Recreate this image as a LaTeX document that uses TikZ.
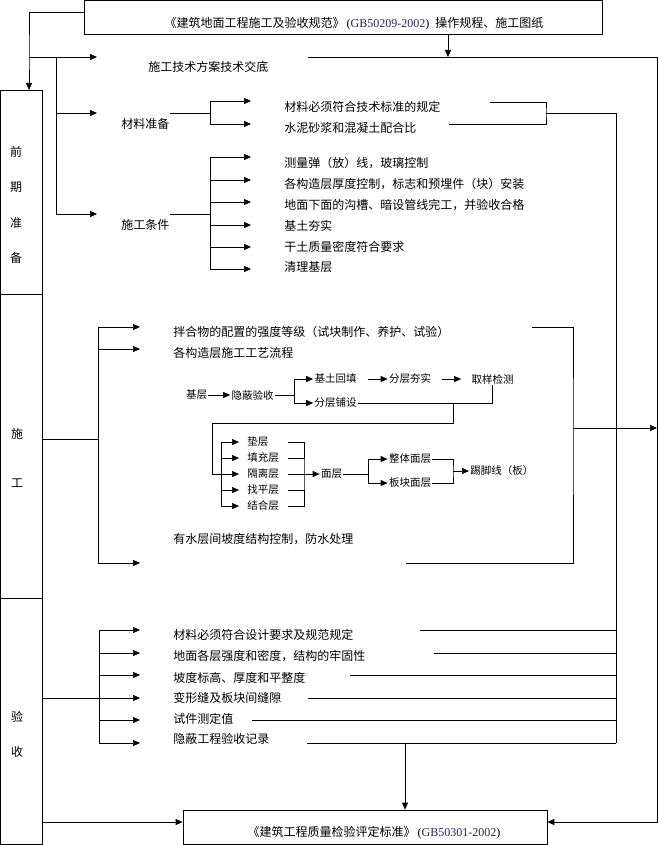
\documentclass[tikz,border=0pt]{standalone}
\usepackage{fontspec}
\setmainfont{Noto Sans CJK SC}
\newfontfamily\gbfont{Liberation Serif}
\definecolor{gbnavy}{RGB}{30, 40, 90}
\usetikzlibrary{arrows.meta, positioning}

\begin{document}
\begin{tikzpicture}[x=1pt, y=-1pt, line width=0.7pt,
  arr/.style={-{Triangle[length=7pt, width=6pt]}},
  txt/.style={anchor=west, inner sep=0pt, font=\fontsize{12}{14}\selectfont},
  sub/.style={inner sep=1pt, font=\fontsize{10.5}{12}\selectfont},
  layer/.style={sub, anchor=west, text width=32pt, align=left, inner xsep=8pt},
  stagebox/.style={draw, minimum width=41.6pt, anchor=north west, inner sep=0pt},
  stagetxt/.style={align=center, inner sep=0pt},
  stdbox/.style={draw, inner xsep=0pt, inner ysep=0pt, minimum height=34pt, font=\fontsize{12}{14}\selectfont}]
  \useasboundingbox (0,0) rectangle (658,845);

  % standards
  \node[stdbox, minimum width=518pt, text height=27.5pt, text depth=6.5pt] (std1) at (343,17.4)
    {\hspace*{22pt}《建筑地面工程施工及验收规范》\hspace{2pt}{\gbfont(\color{gbnavy}GB50209-2002\color{black})}\hspace{6pt}操作规程、施工图纸};
  \node[stdbox, minimum width=364pt, text height=26.5pt, text depth=7.5pt] (std2) at (365,827)
    {\hspace*{18pt}《建筑工程质量检验评定标准》\hspace{2pt}{\gbfont(\color{gbnavy}GB50301-2002\color{black})}};

  % stage column
  \node[stagebox, minimum height=204pt] (stage1) at (0.4,90) {};
  \node[stagebox, minimum height=304pt] (stage2) at (0.4,294) {};
  \node[stagebox, minimum height=246pt] (stage3) at (0.4,598) {};
  \node[stagetxt, font=\fontsize{12}{35.5}\selectfont] (s1) at (16,205) {前\\期\\准\\备};
  \node[stagetxt, font=\fontsize{12}{49}\selectfont] (s2) at (17,457.5) {施\\工};
  \node[stagetxt, font=\fontsize{12}{35}\selectfont] (s3) at (17,734.5) {验\\收};

  % trunks on the right
  \coordinate (v1) at (616,743);
  \coordinate (v2) at (657,822);
  \coordinate (top-in) at (448,57);
  \coordinate (jd-out) at (308,57);
  \draw[arr] (std1.south -| top-in) -- (top-in);
  \draw[arr] (jd-out) -| (v2) -- (v2 -| std2.east);

  % 前期准备
  \coordinate (pre) at (29,57);
  \coordinate (f10) at (56,57);
  \draw[arr] ([yshift=5pt]std1.west) -| (pre) -- (pre |- stage1.north);
  \node[txt] (jd) at (148,67) {施工技术方案技术交底};
  \node[txt] (cl) at (121,124) {材料准备};
  \node[txt] (tj) at (121,225) {施工条件};
  \coordinate (jd-in) at (97,57);
  \coordinate (cl-in) at (97,113);
  \coordinate (tj-in) at (97,214);
  \draw[arr] (pre) -- (jd-in);
  \draw[arr] (f10) |- (cl-in);
  \draw[arr] (f10) |- (tj-in);

  % 材料准备
  \coordinate (f11) at (210,113);
  \draw (cl.east |- f11) -- (f11);
  \node[txt] (cl1) at (284,107) {材料必须符合技术标准的规定};
  \node[txt] (cl2) at (284,128) {水泥砂浆和混凝土配合比};
  \coordinate (cl1-in) at (251,101);
  \coordinate (cl2-in) at (251,124);
  \draw[arr] (f11) |- (cl1-in);
  \draw[arr] (f11) |- (cl2-in);
  \coordinate (cl1-out) at (490,102);
  \coordinate (cl2-out) at (449,124);
  \coordinate (b1) at (546,113);
  \draw (cl1-out) -| (b1) |- (cl2-out);
  \draw (b1) -| (v1);

  % 施工条件
  \coordinate (f12) at (210,214);
  \draw (tj.east |- f12) -- (f12);
  \foreach \ya/\yt/\txt [count=\i] in {157/163/测量弹（放）线，玻璃控制,
      180/184/各构造层厚度控制，标志和预埋件（块）安装,
      202/205/地面下面的沟槽、暗设管线完工，并验收合格,
      225/226/基土夯实, 247/247/干土质量密度符合要求, 269/267/清理基层}{
    \node[txt] (tj\i) at (284,\yt) {\txt};
    \coordinate (tj\i-in) at (251,\ya);
    \draw[arr] (f12) |- (tj\i-in);
  }

  % 施工
  \coordinate (f20) at (98,439);
  \draw (stage2.east |- f20) -- (f20);
  \node[txt] (sg1) at (173,332) {拌合物的配置的强度等级（试块制作、养护、试验）};
  \node[txt] (sg2) at (173,353) {各构造层施工工艺流程};
  \node[txt] (sg3) at (173,539) {有水层间坡度结构控制，防水处理};
  \coordinate (sg1-in) at (140,327);
  \coordinate (sg2-in) at (140,349);
  \coordinate (sg3-in) at (140,563);
  \draw[arr] (f20) |- (sg1-in);
  \draw[arr] (f20) |- (sg2-in);
  \draw[arr] (f20) |- (sg3-in);
  \coordinate (sg1-out) at (532,327);
  \coordinate (sg3-out) at (406,563);
  \coordinate (b2) at (573,428);
  \draw (sg1-out) -| (b2) |- (sg3-out);
  \draw[arr] (b2) -- (b2 -| v2);

  % 工艺流程
  \node[sub] (jc) at (196.5,395) {基层};
  \node[sub] (yb) at (252.5,395) {隐蔽验收};
  \node[sub] (jt) at (335.5,379) {基土回填};
  \node[sub] (fc) at (335.5,403) {分层铺设};
  \node[sub] (hs) at (410,379) {分层夯实};
  \node[sub] (qy) at (492.5,379) {取样检测};
  \coordinate (f21) at (294,395);
  \draw[arr] (jc) -- (yb);
  \draw (yb) -- (f21);
  \draw[arr] (f21) |- (jt.west);
  \draw[arr] (f21) |- (fc.west);
  \draw[arr, shorten <=10pt] (jt) -- (hs);
  \draw[arr, shorten <=10pt, shorten >=9pt] (hs) -- (qy);
  \draw (fc.east) -| (qy.south);
  \node[layer] (dc) at (239,442) {垫层};
  \node[layer] (tc) at (239,458) {填充层};
  \node[layer] (gl) at (239,474) {隔离层};
  \node[layer] (zp) at (239,490) {找平层};
  \node[layer] (jh) at (239,506) {结合层};
  \coordinate (m1) at (453,403);
  \coordinate (m2) at (212,423);
  \coordinate (f22) at (221,474);
  \draw[arr] (m1) |- (m2) |- (gl.west);
  \draw (dc.west -| f22) -- (jh.west -| f22);
  \draw[arr] (dc.west -| f22) -- (dc.west);
  \draw[arr] (tc.west -| f22) -- (tc.west);
  \draw[arr] (zp.west -| f22) -- (zp.west);
  \draw[arr] (jh.west -| f22) -- (jh.west);
  \node[sub] (mc) at (331.5,474) {面层};
  \coordinate (f23) at (304,474);
  \draw (dc.east) -| (f23) |- (jh.east);
  \draw (tc.east) -- (tc.east -| f23);
  \draw (gl.east) -- (f23);
  \draw (zp.east) -- (zp.east -| f23);
  \draw[arr] (f23) -- (mc);
  \node[sub] (zt) at (410,459) {整体面层};
  \node[sub] (bk) at (410,483) {板块面层};
  \node[sub, anchor=west] (tjx) at (469,471) {踢脚线（板）};
  \coordinate (f24) at (368,474);
  \coordinate (f25) at (453,471);
  \draw (mc) -- (f24);
  \draw[arr] (f24) |- (zt.west);
  \draw[arr] (f24) |- (bk.west);
  \draw (zt.east) -| (f25) |- (bk.east);
  \draw[arr] (f25) -- (tjx.west);

  % 验收
  \coordinate (f30) at (99,698);
  \foreach \ya/\yt/\xo/\txt [count=\i] in {630/635/420/材料必须符合设计要求及规范规定,
      653/656/434/地面各层强度和密度，结构的牢固性, 675/678/350/坡度标高、厚度和平整度,
      698/698/308/变形缝及板块间缝隙, 720/719/252/试件测定值, 743/739/307/隐蔽工程验收记录}{
    \node[txt] (ys\i) at (173,\yt) {\txt};
    \coordinate (ys\i-in) at (140,\ya);
    \coordinate (ys\i-out) at (\xo,\ya);
    \draw[arr] (f30) |- (ys\i-in);
    \draw (ys\i-out) -- (ys\i-out -| v1);
  }
  \draw (stage3.east |- f30) -- (f30);
  \coordinate (d1) at (405,743);
  \draw[arr] (d1) -- (d1 |- std2.north);
  \draw[arr] ([yshift=5pt]std2.west -| stage3.east) -- ([yshift=5pt]std2.west);
\end{tikzpicture}
\end{document}
